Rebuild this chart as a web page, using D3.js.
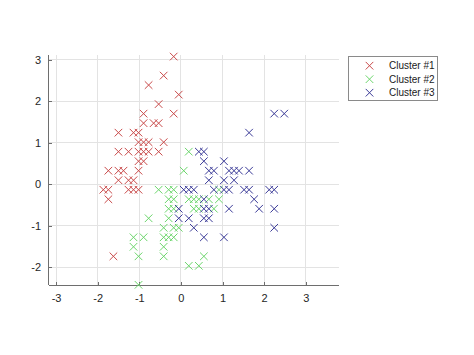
<!DOCTYPE html>
<html><head><meta charset="utf-8">
<script src="https://cdn.jsdelivr.net/npm/d3@7"></script>
<style>
body{margin:0;background:#fff;}
svg{display:block;font-family:"Liberation Sans",Arial,Helvetica,sans-serif;}
</style>
</head><body>
<svg id="chart" width="474" height="355"></svg>
<script>
// Cluster #1 points [x, y]
const cluster1 = [
 [-0.897,1.016],[-1.139,-0.131],[-1.380,0.328],[-1.501,0.098],[-1.018,1.246],[-0.535,1.935],
 [-1.501,0.787],[-1.018,0.787],[-1.743,-0.361],[-1.139,0.098],[-0.535,1.475],[-1.259,0.787],
 [-1.259,-0.131],[-1.864,-0.131],[-0.052,2.164],[-0.173,3.082],[-0.173,1.705],[-0.897,1.705],
 [-0.535,0.787],[-0.897,1.475],[-1.501,1.246],[-0.897,0.557],[-1.018,-0.131],[-0.776,1.016],
 [-0.776,0.787],[-0.776,2.394],[-0.414,2.623],[-1.018,0.328],[-0.414,1.016],[-1.139,1.246],
 [-1.743,-0.131],[-0.897,0.787],[-1.018,1.016],[-1.622,-1.738],[-1.743,0.328],[-1.501,0.328],
 [-0.655,1.475],[-1.018,0.557],[-1.259,0.098]
];
// Cluster #2 points [x, y]
const cluster2 = [
 [0.068,0.328],[0.189,0.787],[-0.535,-0.131],[-0.294,-0.131],[-0.173,-0.131],[0.914,-0.131],
 [-0.294,-0.361],[-0.173,-0.361],[0.189,-0.361],[0.310,-0.361],[0.431,-0.361],[0.672,-0.361],
 [0.914,-0.361],[-0.294,-0.590],[-0.173,-0.590],[0.310,-0.590],[0.431,-0.590],[0.793,-0.590],
 [-0.776,-0.820],[-0.294,-0.820],[-0.414,-1.049],[-0.173,-1.049],[-0.052,-1.049],
 [-1.139,-1.279],[-0.897,-1.279],[-0.414,-1.279],[-0.294,-1.279],[-0.173,-1.279],
 [-1.139,-1.508],[-0.414,-1.508],[-1.018,-1.738],[-0.414,-1.738],[0.552,-1.738],
 [0.189,-1.967],[0.431,-1.967],[-1.018,-2.426]
];
// Cluster #3 points [x, y]
const cluster3 = [
 [2.243,1.705],[2.484,1.705],[1.639,1.246],[0.431,0.787],[0.552,0.787],[0.552,0.557],[1.035,0.557],
 [0.672,0.328],[0.793,0.328],[1.156,0.328],[1.277,0.328],[1.397,0.328],[1.639,0.328],
 [0.672,0.098],[1.035,0.098],[1.277,0.098],
 [0.068,-0.131],[0.189,-0.131],[0.310,-0.131],[0.793,-0.131],[1.035,-0.131],[1.156,-0.131],
 [1.518,-0.131],[1.639,-0.131],[2.122,-0.131],[2.243,-0.131],
 [0.552,-0.361],[1.760,-0.361],
 [-0.052,-0.590],[0.552,-0.590],[0.672,-0.590],[1.156,-0.590],[1.880,-0.590],[2.243,-0.590],
 [-0.052,-0.820],[0.189,-0.820],[0.552,-0.820],[0.672,-0.820],
 [0.310,-1.049],[2.243,-1.049],[0.552,-1.279],[1.035,-1.279]
];
const seriesNames = ["Cluster #1","Cluster #2","Cluster #3"];
const seriesColors = ["#c94a4a","#6cd66c","#3b3b98"];
const xTicks = [-3,-2,-1,0,1,2,3];
const yTicks = [-2,-1,0,1,2,3];
const xDomain = [-3.17, 3.8];
const yDomain = [-2.43, 3.12];

const svg = d3.select("#chart");
const L = 49, R = 339, T = 55, B = 285;
const x = d3.scaleLinear().domain(xDomain).range([L, R]);
const y = d3.scaleLinear().domain(yDomain).range([B, T]);

// grid
const g = svg.append("g");
g.selectAll(".gx").data(xTicks).join("line")
  .attr("x1", d => x(d)).attr("x2", d => x(d)).attr("y1", T).attr("y2", B)
  .attr("stroke", "#e3e3e3").attr("stroke-width", 1).attr("shape-rendering","crispEdges");
g.selectAll(".gy").data(yTicks).join("line")
  .attr("y1", d => y(d)).attr("y2", d => y(d)).attr("x1", L).attr("x2", R)
  .attr("stroke", "#e3e3e3").attr("stroke-width", 1).attr("shape-rendering","crispEdges");

// axes
const xAxis = d3.axisBottom(x).tickValues(xTicks).tickSize(-3).tickPadding(9).tickFormat(d => String(d));
const yAxis = d3.axisLeft(y).tickValues(yTicks).tickSize(-3).tickPadding(8).tickFormat(d => String(d));
const ax = svg.append("g").attr("transform", `translate(0,${B})`).call(xAxis);
const ay = svg.append("g").attr("transform", `translate(${L},0)`).call(yAxis);
[ax, ay].forEach(a => {
  a.select(".domain").attr("stroke", "#6e6e6e").attr("shape-rendering","crispEdges");
  a.selectAll(".tick line").attr("stroke", "#6e6e6e").attr("shape-rendering","crispEdges");
  a.selectAll("text").attr("fill", "#262626").attr("font-size", 11)
   .attr("font-family", '"Liberation Sans",Arial,sans-serif');
});
ax.select(".domain").attr("d", `M${L},0.5H${R}`);
ay.select(".domain").attr("d", `M-0.5,${B}V${T}`);

// markers
const s = 3.8;
function crossPath(cx, cy) {
  return `M${cx - s},${cy - s}L${cx + s},${cy + s}M${cx - s},${cy + s}L${cx + s},${cy - s}`;
}
[cluster1, cluster2, cluster3].forEach((data, i) => {
  svg.append("g").selectAll("path").data(data).join("path")
    .attr("d", d => crossPath(x(d[0]), y(d[1])))
    .attr("fill", "none").attr("stroke", seriesColors[i]).attr("stroke-width", 1);
});

// legend
const lg = svg.append("g");
lg.append("rect").attr("x", 348.5).attr("y", 56.5).attr("width", 89).attr("height", 44)
  .attr("fill", "#fff").attr("stroke", "#8a8a8a").attr("stroke-width", 1);
seriesNames.forEach((name, i) => {
  const cy = 65.7 + i * 13.5;
  lg.append("path").attr("d", crossPath(369.5, cy)).attr("fill","none")
    .attr("stroke", seriesColors[i]).attr("stroke-width", 1);
  lg.append("text").attr("x", 389).attr("y", cy).attr("dy", "0.35em")
    .attr("font-size", 10).attr("fill", "#1a1a1a").text(name);
});
</script>
</body></html>
